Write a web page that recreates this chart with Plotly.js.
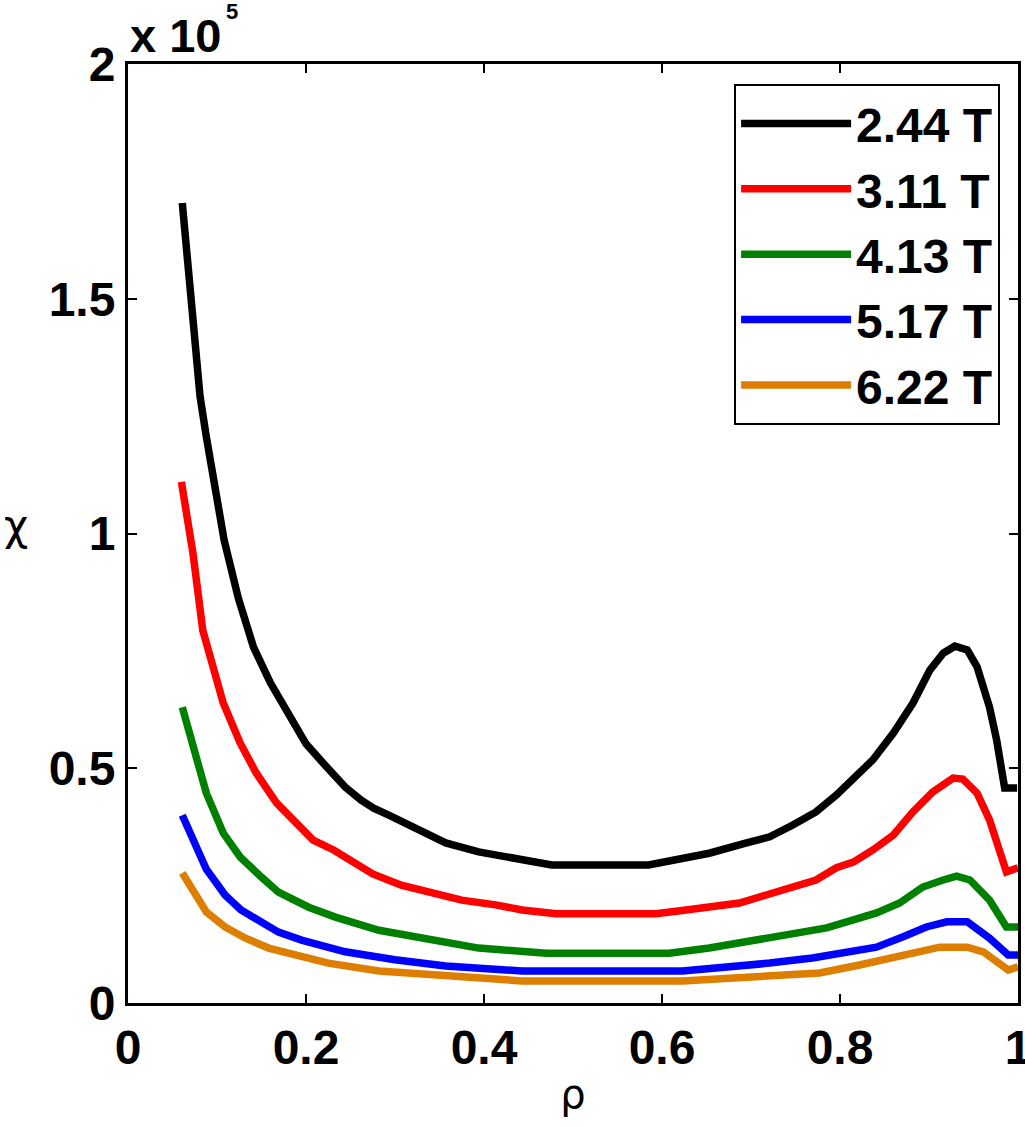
<!DOCTYPE html>
<html>
<head>
<meta charset="utf-8">
<script src="https://cdn.plot.ly/plotly-3.0.1.min.js"></script>
<style>html,body{margin:0;padding:0;background:#fff;}</style>
</head>
<body>
<div id="chart" style="width:1025px;height:1127px;"></div>
<script>
// rho values and chi values (in units of 1e5)
const names = ['2.44 T', '3.11 T', '4.13 T', '5.17 T', '6.22 T'];
const colors = ['#000000', '#ff0000', '#008000', '#0000ff', '#de7e00'];

const x244 = [0.061,0.073,0.081,0.088,0.099,0.108,0.124,0.141,0.160,0.171,0.184,0.200,0.223,0.244,0.262,0.276,0.293,0.319,0.357,0.394,0.431,0.476,0.585,0.616,0.653,0.695,0.721,0.747,0.773,0.796,0.818,0.837,0.860,0.882,0.901,0.916,0.929,0.943,0.954,0.968,0.976,0.985,0.999];
const y244 = [1.704,1.448,1.291,1.206,1.093,0.986,0.862,0.758,0.682,0.645,0.600,0.552,0.503,0.460,0.432,0.415,0.400,0.375,0.341,0.322,0.309,0.294,0.294,0.305,0.319,0.341,0.354,0.379,0.407,0.443,0.481,0.518,0.575,0.639,0.709,0.745,0.760,0.752,0.716,0.630,0.560,0.458,0.458];

const x311 = [0.060,0.073,0.084,0.096,0.107,0.126,0.144,0.167,0.194,0.208,0.231,0.261,0.275,0.307,0.346,0.375,0.413,0.443,0.481,0.593,0.627,0.657,0.687,0.717,0.747,0.773,0.796,0.815,0.837,0.860,0.882,0.904,0.927,0.938,0.954,0.968,0.987,1.000];
const y311 = [1.110,0.958,0.794,0.709,0.639,0.554,0.490,0.426,0.375,0.347,0.326,0.290,0.275,0.251,0.234,0.219,0.209,0.198,0.190,0.190,0.198,0.205,0.213,0.230,0.245,0.262,0.288,0.300,0.326,0.358,0.407,0.449,0.479,0.477,0.447,0.390,0.279,0.288];

const x413 = [0.061,0.073,0.088,0.107,0.126,0.150,0.169,0.203,0.233,0.282,0.338,0.394,0.470,0.608,0.653,0.687,0.717,0.747,0.785,0.815,0.841,0.867,0.893,0.916,0.931,0.946,0.968,0.987,1.000];
const y413 = [0.630,0.545,0.447,0.362,0.311,0.268,0.236,0.204,0.183,0.155,0.134,0.117,0.106,0.106,0.117,0.128,0.134,0.145,0.160,0.177,0.192,0.213,0.247,0.262,0.270,0.262,0.219,0.162,0.162];

const x517 = [0.061,0.088,0.109,0.127,0.169,0.195,0.244,0.300,0.357,0.394,0.443,0.623,0.687,0.721,0.769,0.815,0.841,0.871,0.897,0.920,0.943,0.968,0.989,1.000];
const y517 = [0.400,0.285,0.230,0.198,0.151,0.134,0.109,0.092,0.079,0.075,0.068,0.068,0.077,0.085,0.096,0.109,0.119,0.141,0.162,0.173,0.173,0.138,0.102,0.102];

const x622 = [0.061,0.088,0.109,0.132,0.158,0.188,0.225,0.282,0.338,0.394,0.443,0.623,0.702,0.777,0.822,0.860,0.890,0.912,0.943,0.961,0.989,1.000];
const y622 = [0.277,0.194,0.162,0.138,0.117,0.102,0.085,0.068,0.060,0.053,0.047,0.047,0.055,0.064,0.081,0.096,0.109,0.119,0.119,0.109,0.070,0.077];

const xs = [x244, x311, x413, x517, x622];
const ys = [y244, y311, y413, y517, y622];

const yTickVals = [0, 0.5, 1, 1.5, 2];
const yTickText = ['0', '0.5', '1', '1.5', '2'];
const xTickVals = [0, 0.2, 0.4, 0.6, 0.8, 1];
const xTickText = ['0', '0.2', '0.4', '0.6', '0.8', '1'];

const traces = names.map((n, i) => ({
  x: xs[i], y: ys[i], name: n, type: 'scatter', mode: 'lines',
  line: {color: colors[i], width: 7.5}
}));

const tickFont = {family: 'Liberation Sans, Arial, sans-serif', size: 48, color: '#000', weight: 'bold'};

const layout = {
  width: 1025, height: 1127,
  margin: {l: 128, r: 7, t: 64, b: 124},
  paper_bgcolor: '#fff', plot_bgcolor: '#fff',
  showlegend: true,
  legend: {
    x: 0.681, y: 0.979, xanchor: 'left', yanchor: 'top',
    bgcolor: '#fff', bordercolor: '#000', borderwidth: 2,
    font: {family: 'Liberation Sans, Arial, sans-serif', size: 48, color: '#000', weight: 'bold'},
    itemwidth: 110
  },
  xaxis: {
    range: [0, 1], tickvals: xTickVals, ticktext: xTickText,
    ticks: 'inside', ticklen: 9, tickwidth: 2, tickcolor: '#000',
    showline: true, linecolor: '#000', linewidth: 3, mirror: 'ticks',
    showgrid: false, zeroline: false, tickfont: tickFont, ticklabeloverflow: 'allow',
    title: {text: 'ρ', font: {family: 'DejaVu Sans, sans-serif', size: 40, color: '#000'}, standoff: 8}
  },
  yaxis: {
    range: [0, 2], tickvals: yTickVals, ticktext: yTickText,
    ticks: 'inside', ticklen: 9, tickwidth: 2, tickcolor: '#000',
    showline: true, linecolor: '#000', linewidth: 3, mirror: 'ticks',
    showgrid: false, zeroline: false, tickfont: tickFont, ticklabeloverflow: 'allow'
  },
  annotations: [
    {xref: 'paper', yref: 'paper', x: -0.126, y: 0.5, xanchor: 'center', yanchor: 'middle', yshift: 8,
     text: 'χ', showarrow: false,
     font: {family: 'DejaVu Sans, sans-serif', size: 42, color: '#000'}},
    {xref: 'paper', yref: 'paper', x: 0, y: 1, xanchor: 'left', yanchor: 'bottom', yshift: 0,
     text: '<b>x 10</b>', showarrow: false,
     font: {family: 'Liberation Sans, Arial, sans-serif', size: 47, color: '#000'}},
    {xref: 'paper', yref: 'paper', x: 0.108, y: 1, xanchor: 'left', yanchor: 'bottom', yshift: 38,
     text: '<b>5</b>', showarrow: false,
     font: {family: 'Liberation Sans, Arial, sans-serif', size: 22, color: '#000'}}
  ]
};

Plotly.newPlot('chart', traces, layout, {staticPlot: true, displayModeBar: false});
</script>
</body>
</html>
